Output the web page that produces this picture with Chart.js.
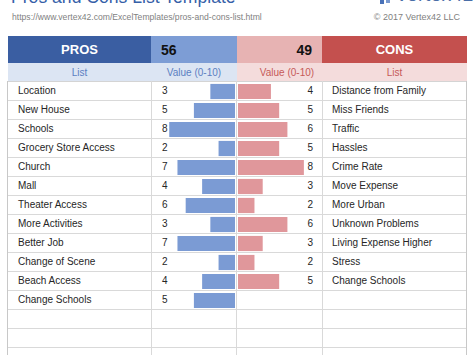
<!DOCTYPE html>
<html><head><meta charset="utf-8">
<script src="https://cdn.jsdelivr.net/npm/chart.js@4.4.1/dist/chart.umd.min.js"></script>
<style>
html,body{margin:0;padding:0;width:474px;height:355px;overflow:hidden;background:#fff;font-family:"Liberation Sans",Arial,sans-serif;}
.a{position:absolute;white-space:nowrap;}
canvas{position:absolute;}
</style></head><body>
<div id="root"></div>
<canvas id="prosChart" width="84" height="228"></canvas>
<canvas id="consChart" width="84" height="209"></canvas>
<script>
const titleText = "Pros and Cons List Template";
const urlText = "https://www.vertex42.com/ExcelTemplates/pros-and-cons-list.html";
const copyrightText = "\u00A9 2017 Vertex42 LLC";
const prosItems = ["Location","New House","Schools","Grocery Store Access","Church","Mall","Theater Access","More Activities","Better Job","Change of Scene","Beach Access","Change Schools"];
const prosValues = [3,5,8,2,7,4,6,3,7,2,4,5];
const consItems = ["Distance from Family","Miss Friends","Traffic","Hassles","Crime Rate","Move Expense","More Urban","Unknown Problems","Living Expense Higher","Stress","Change Schools"];
const consValues = [4,5,6,5,8,3,2,6,3,2,5];
const columnHeaders = ["List","Value (0-10)"];

const root = document.getElementById('root');
function box(css, text){
  const d = document.createElement('div');
  d.className = 'a';
  d.style.cssText = css;
  if (text !== undefined) d.textContent = text;
  root.appendChild(d);
  return d;
}
const sum = a => a.reduce((s,v)=>s+v,0);

// title area
box('left:11px;top:-13px;font-size:17.6px;color:#3560a8;line-height:20px;', titleText);
box('left:12px;top:12px;font-size:8.6px;color:#7f7f7f;line-height:11px;', urlText);
box('right:14px;top:12px;font-size:9px;color:#7f7f7f;line-height:11px;', copyrightText);
box('left:397px;top:-15px;font-size:19px;color:#4a6ea8;line-height:20px;letter-spacing:0.5px;', 'vertex42');
box('left:380px;top:0px;width:4px;height:4px;background:#4a72b8;');
box('left:386px;top:0px;width:4px;height:3px;background:#7a9ad0;');

// header band
const hTop = 36, hH = 27;
box(`left:8px;top:${hTop}px;width:143px;height:${hH}px;background:#3a5ea2;color:#fff;font-weight:bold;font-size:13px;line-height:${hH}px;text-align:center;`, 'PROS');
box(`left:151px;top:${hTop}px;width:86px;height:${hH}px;background:#7d9dd5;color:#111;font-weight:bold;font-size:14px;line-height:${hH+1}px;`, '').appendChild(Object.assign(document.createElement('span'),{textContent:String(sum(prosValues)),style:'position:absolute;left:10px;'}));
box(`left:237px;top:${hTop}px;width:85px;height:${hH}px;background:#e7b3b3;color:#111;font-weight:bold;font-size:14px;line-height:${hH+1}px;`, '').appendChild(Object.assign(document.createElement('span'),{textContent:String(sum(consValues)),style:'position:absolute;right:10px;'}));
box(`left:322px;top:${hTop}px;width:145px;height:${hH}px;background:#c4504e;color:#fff;font-weight:bold;font-size:13px;line-height:${hH}px;text-align:center;`, 'CONS');

// sub header
const sTop = 63, sH = 19;
box(`left:8px;top:${sTop}px;width:229px;height:${sH}px;background:#dce5f3;`);
box(`left:237px;top:${sTop}px;width:230px;height:${sH}px;background:#f4dcdc;`);
box(`left:8px;top:${sTop}px;width:143px;line-height:${sH}px;text-align:center;font-size:10px;color:#5b7fc2;`, columnHeaders[0]);
box(`left:151px;top:${sTop}px;width:86px;line-height:${sH}px;text-align:center;font-size:10px;color:#5b7fc2;`, columnHeaders[1]);
box(`left:237px;top:${sTop}px;width:100px;line-height:${sH}px;text-align:center;font-size:10px;color:#c65a58;`, columnHeaders[1]);
box(`left:322px;top:${sTop}px;width:145px;line-height:${sH}px;text-align:center;font-size:10px;color:#c65a58;`, columnHeaders[0]);

// rows
const r0 = 82, rH = 19, nRows = 15;
box(`left:8px;top:${r0-1}px;width:459px;height:1px;background:#d4d4d4;`);
for (let i=0;i<nRows;i++){
  const t = r0 + rH*i;
  box(`left:8px;top:${t+rH-1}px;width:459px;height:1px;background:#d9d9d9;`);
  if (i < prosItems.length){
    box(`left:18px;top:${t}px;line-height:${rH-1}px;font-size:10px;color:#262626;`, prosItems[i]);
    box(`left:162px;top:${t}px;line-height:${rH-1}px;font-size:10px;color:#262626;`, String(prosValues[i]));
  }
  if (i < consItems.length){
    box(`left:332px;top:${t}px;line-height:${rH-1}px;font-size:10px;color:#262626;`, consItems[i]);
    box(`left:262px;width:51px;text-align:right;top:${t}px;line-height:${rH-1}px;font-size:10px;color:#262626;`, String(consValues[i]));
  }
}
[7,151,236,322,466].forEach(x=>box(`left:${x}px;top:${r0-1}px;width:1px;height:${355-r0+1}px;background:${(x===7||x===466)?'#c8c8c8':'#d9d9d9'};`));

// charts
const pc = document.getElementById('prosChart');
pc.style.left = '151px'; pc.style.top = r0 + 'px';
const cc = document.getElementById('consChart');
cc.style.left = '238px'; cc.style.top = r0 + 'px';

function barChart(canvas, labels, values, color, reverse, max){
  return new Chart(canvas, {
    type: 'bar',
    data: { labels: labels, datasets: [{ data: values, backgroundColor: color, borderWidth: 0, categoryPercentage: 1, barPercentage: 0.8 }] },
    options: {
      indexAxis: 'y', responsive: false, animation: false, events: [],
      layout: { padding: 0 },
      plugins: { legend: { display: false }, tooltip: { enabled: false } },
      scales: {
        x: { display: false, min: 0, max: max, reverse: reverse },
        y: { display: false }
      }
    }
  });
}
barChart(pc, prosItems, prosValues, '#7b9bd4', true, 10.22);
barChart(cc, consItems, consValues, '#e0979b', false, 10.2);
</script>
</body></html>
